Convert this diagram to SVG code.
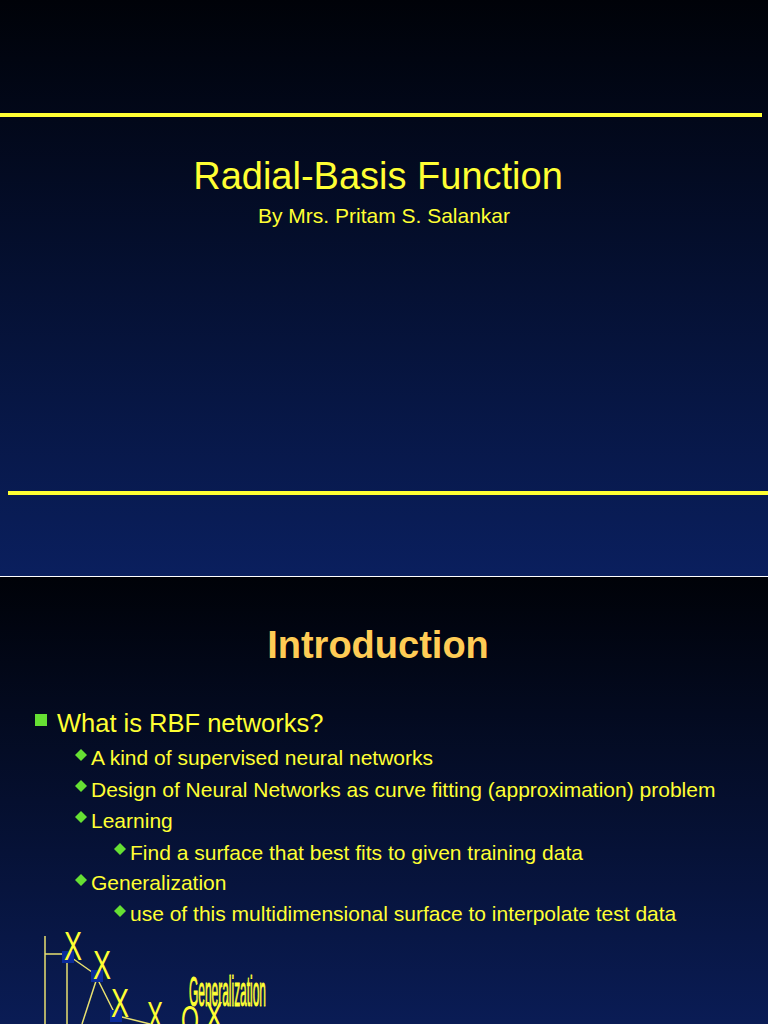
<svg xmlns="http://www.w3.org/2000/svg" width="768" height="1024" viewBox="0 0 768 1024">
<defs>
<linearGradient id="g1" x1="0" y1="0" x2="0" y2="1"><stop offset="0" stop-color="#000208"/><stop offset="1" stop-color="#0a1f5e"/></linearGradient>
<linearGradient id="g2" x1="0" y1="0" x2="0" y2="1"><stop offset="0" stop-color="#000208"/><stop offset="1" stop-color="#0a1c55"/></linearGradient>
</defs>
<style>
text{font-family:"Liberation Sans",Arial,sans-serif;fill:#ffff33}
.b{font-size:21px}
.x{font-size:40px}
.d{fill:#66e033}
.ln{stroke:#e8e070;stroke-width:1.5;fill:none}
</style>
<rect width="768" height="1024" fill="#fff"/>
<g id="slide1">
<rect x="0" y="0" width="768" height="576" fill="url(#g1)"/>
<rect x="0" y="113" width="762" height="4" fill="#ffff33"/>
<rect x="8" y="491" width="760" height="4" fill="#ffff33"/>
<text x="378" y="189" font-size="38" text-anchor="middle">Radial-Basis Function</text>
<text x="384" y="223" font-size="21" text-anchor="middle">By Mrs. Pritam S. Salankar</text>
</g>
<g id="slide2">
<rect x="0" y="577" width="768" height="447" fill="url(#g2)"/>
<text x="378" y="658" font-size="38" font-weight="bold" text-anchor="middle" style="fill:#ffcc55">Introduction</text>
<rect x="35" y="714" width="12" height="12" class="d"/>
<text x="57" y="732" font-size="25.5">What is RBF networks?</text>
<g class="d"><path d="M81 749l6 6-6 6-6-6z"/><path d="M81 780l6 6-6 6-6-6z"/><path d="M81 811l6 6-6 6-6-6z"/><path d="M120 843l6 6-6 6-6-6z"/><path d="M81 874l6 6-6 6-6-6z"/><path d="M120 905l6 6-6 6-6-6z"/></g>
<text x="91" y="765" class="b">A kind of supervised neural networks</text>
<text x="91" y="797" class="b">Design of Neural Networks as curve fitting (approximation) problem</text>
<text x="91" y="828" class="b">Learning</text>
<text x="130" y="860" class="b">Find a surface  that best fits to given training data</text>
<text x="91" y="890" class="b">Generalization</text>
<text x="130" y="921" class="b">use of this multidimensional surface to interpolate test data</text>
</g>
<g id="plot">
<path class="ln" d="M45 936V1024M45 954H65M67 954V1024M72 958L92 972M97 978L82 1024M97 978L115 1014M150 1024L118 1016"/>
<rect x="62" y="951" width="12" height="12" fill="#0a2a9a"/>
<rect x="91" y="970" width="12" height="12" fill="#0a2a9a"/>
<rect x="110" y="1010" width="12" height="12" fill="#0a2a9a"/>
<text x="64" y="960" class="x" textLength="18" lengthAdjust="spacingAndGlyphs">X</text>
<text x="93" y="979" class="x" textLength="18" lengthAdjust="spacingAndGlyphs">X</text>
<text x="111" y="1017" class="x" textLength="18" lengthAdjust="spacingAndGlyphs">X</text>
<text x="147" y="1030" class="x" textLength="16" lengthAdjust="spacingAndGlyphs">X</text>
<text x="181" y="1034" class="x" textLength="18" lengthAdjust="spacingAndGlyphs">O</text>
<text x="205" y="1030" class="x" textLength="18" lengthAdjust="spacingAndGlyphs">X</text>
<text x="189" y="1006" font-size="42" stroke="#ffff33" stroke-width="1" textLength="77" lengthAdjust="spacingAndGlyphs">Generalization</text>
</g>
</svg>
